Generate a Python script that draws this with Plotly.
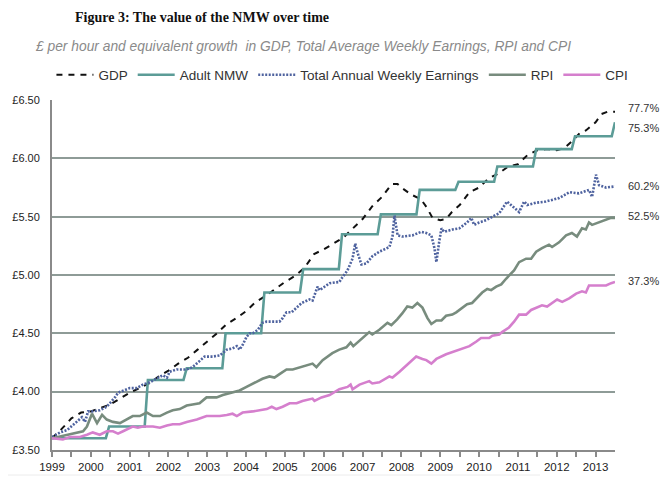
import plotly.graph_objects as go

# ---------------- data (x = year position on the chart's axis) ----------------
gdp_x = [1999.0, 1999.25, 1999.5, 1999.75, 2000.0, 2000.25, 2000.5, 2000.75, 2001.0, 2001.25,
         2001.5, 2001.75, 2002.0, 2002.25, 2002.5, 2002.75, 2003.0, 2003.25, 2003.5, 2003.75,
         2004.0, 2004.25, 2004.5, 2004.75, 2005.0, 2005.25, 2005.5, 2005.75, 2006.0, 2006.25,
         2006.5, 2006.75, 2007.0, 2007.25, 2007.5, 2007.75, 2007.9, 2008.0, 2008.25, 2008.5,
         2008.65, 2008.8, 2009.0, 2009.15, 2009.3, 2009.5, 2009.75, 2010.0, 2010.25, 2010.5,
         2010.75, 2011.0, 2011.25, 2011.5, 2011.75, 2012.0, 2012.2, 2012.4, 2012.6, 2012.75,
         2013.0, 2013.15, 2013.3, 2013.5]
gdp_y = [3.60, 3.68, 3.77, 3.82, 3.83, 3.86, 3.89, 3.94, 3.99, 4.03,
         4.07, 4.13, 4.18, 4.24, 4.29, 4.36, 4.43, 4.50, 4.58, 4.63,
         4.69, 4.77, 4.82, 4.88, 4.94, 4.99, 5.06, 5.18, 5.22, 5.27,
         5.32, 5.40, 5.48, 5.59, 5.67, 5.78, 5.78, 5.75, 5.69, 5.65,
         5.58, 5.49, 5.47, 5.48, 5.54, 5.60, 5.71, 5.75, 5.83, 5.87,
         5.93, 5.95, 6.03, 6.07, 6.08, 6.07, 6.09, 6.15, 6.22, 6.24,
         6.31, 6.38, 6.40, 6.40]

nmw_change_x = [1999.0, 2000.47, 2001.47, 2002.47, 2003.47, 2004.47, 2005.47, 2006.47,
                2007.47, 2008.47, 2009.47, 2010.47, 2011.47, 2012.47, 2013.5]
nmw_rate = [3.60, 3.70, 4.10, 4.20, 4.50, 4.85, 5.05, 5.35,
            5.52, 5.73, 5.80, 5.93, 6.08, 6.19, 6.31]

awe_x = [1999.0, 1999.21, 1999.39, 1999.64, 1999.72, 1999.77, 1999.85, 1999.93, 2000.05, 2000.23,
         2000.41, 2000.49, 2000.62, 2000.70, 2000.83, 2001.0, 2001.19, 2001.34, 2001.52, 2001.70,
         2001.85, 2001.96, 2002.03, 2002.21, 2002.47, 2002.62, 2002.80, 2002.93, 2003.14, 2003.32,
         2003.50, 2003.65, 2003.76, 2003.83, 2003.91, 2004.01, 2004.09, 2004.17, 2004.30, 2004.42,
         2004.53, 2004.86, 2004.94, 2005.04, 2005.17, 2005.30, 2005.43, 2005.63, 2005.71, 2005.84,
         2005.89, 2006.15, 2006.40, 2006.48, 2006.61, 2006.74, 2006.81, 2006.87, 2006.97, 2007.10,
         2007.25, 2007.43, 2007.69, 2007.77, 2007.82, 2007.90, 2008.02, 2008.28, 2008.51, 2008.64,
         2008.77, 2008.85, 2008.90, 2008.97, 2009.03, 2009.10, 2009.31, 2009.49, 2009.62, 2009.69,
         2009.80, 2009.87, 2010.00, 2010.18, 2010.34, 2010.52, 2010.72, 2010.83, 2010.95, 2011.03,
         2011.16, 2011.24, 2011.47, 2011.72, 2012.06, 2012.32, 2012.57, 2012.83, 2012.91, 2013.01,
         2013.09, 2013.27, 2013.5]
awe_y = [3.61, 3.65, 3.67, 3.74, 3.77, 3.78, 3.74, 3.83, 3.83, 3.84,
         3.87, 3.90, 3.95, 3.99, 4.01, 4.03, 4.03, 4.06, 4.08, 4.11,
         4.14, 4.12, 4.17, 4.19, 4.19, 4.21, 4.26, 4.30, 4.30, 4.31,
         4.36, 4.37, 4.39, 4.36, 4.40, 4.47, 4.50, 4.50, 4.53, 4.59,
         4.60, 4.60, 4.63, 4.68, 4.68, 4.72, 4.76, 4.79, 4.78, 4.90,
         4.87, 4.93, 4.94, 4.98, 5.04, 5.14, 5.27, 5.19, 5.09, 5.10,
         5.16, 5.20, 5.24, 5.33, 5.51, 5.34, 5.33, 5.34, 5.37, 5.36,
         5.34, 5.23, 5.11, 5.28, 5.40, 5.37, 5.39, 5.40, 5.43, 5.45,
         5.49, 5.43, 5.45, 5.47, 5.50, 5.53, 5.63, 5.60, 5.56, 5.54,
         5.63, 5.60, 5.62, 5.63, 5.66, 5.71, 5.70, 5.73, 5.67, 5.86,
         5.77, 5.75, 5.76]

rpi_x = [1999.0, 1999.39, 1999.64, 1999.80, 1999.90, 2000.03, 2000.16, 2000.29, 2000.41, 2000.57,
         2000.75, 2000.93, 2001.08, 2001.26, 2001.44, 2001.60, 2001.78, 2001.96, 2002.11, 2002.29,
         2002.47, 2002.62, 2002.80, 2002.98, 2003.24, 2003.40, 2003.65, 2003.83, 2004.01, 2004.17,
         2004.42, 2004.60, 2004.73, 2004.86, 2005.04, 2005.20, 2005.43, 2005.71, 2005.81, 2005.97,
         2006.22, 2006.40, 2006.58, 2006.69, 2006.76, 2006.92, 2007.10, 2007.17, 2007.25, 2007.43,
         2007.64, 2007.74, 2007.89, 2008.02, 2008.15, 2008.28, 2008.41, 2008.54, 2008.67, 2008.77,
         2008.90, 2009.03, 2009.15, 2009.31, 2009.41, 2009.57, 2009.69, 2009.82, 2010.00, 2010.08,
         2010.21, 2010.31, 2010.44, 2010.57, 2010.70, 2010.83, 2010.90, 2011.03, 2011.21, 2011.34,
         2011.47, 2011.62, 2011.80, 2011.88, 2012.06, 2012.24, 2012.39, 2012.52, 2012.65, 2012.75,
         2012.83, 2012.91, 2013.09, 2013.27, 2013.40, 2013.5]
rpi_y = [3.60, 3.63, 3.65, 3.66, 3.70, 3.81, 3.73, 3.80, 3.76, 3.74,
         3.73, 3.76, 3.79, 3.79, 3.82, 3.79, 3.79, 3.82, 3.84, 3.85,
         3.88, 3.89, 3.90, 3.95, 3.95, 3.97, 3.99, 4.01, 4.04, 4.07,
         4.11, 4.13, 4.12, 4.15, 4.19, 4.19, 4.21, 4.24, 4.21, 4.27,
         4.33, 4.36, 4.38, 4.42, 4.39, 4.44, 4.49, 4.51, 4.49, 4.53,
         4.59, 4.57, 4.62, 4.67, 4.73, 4.72, 4.76, 4.72, 4.63, 4.58,
         4.61, 4.61, 4.65, 4.66, 4.68, 4.72, 4.75, 4.76, 4.82, 4.85,
         4.88, 4.87, 4.90, 4.92, 4.97, 5.02, 5.04, 5.11, 5.14, 5.14,
         5.20, 5.23, 5.26, 5.24, 5.28, 5.34, 5.36, 5.33, 5.40, 5.39,
         5.45, 5.43, 5.45, 5.47, 5.49, 5.49]

cpi_x = [1999.0, 1999.28, 1999.46, 1999.72, 1999.90, 2000.05, 2000.23, 2000.41, 2000.57, 2000.70,
         2000.83, 2000.95, 2001.08, 2001.21, 2001.34, 2001.60, 2001.78, 2001.96, 2002.11, 2002.29,
         2002.47, 2002.73, 2002.80, 2002.98, 2003.14, 2003.32, 2003.50, 2003.65, 2003.76, 2003.91,
         2004.17, 2004.35, 2004.53, 2004.66, 2004.78, 2004.94, 2005.12, 2005.30, 2005.45, 2005.71,
         2005.76, 2005.94, 2006.15, 2006.40, 2006.61, 2006.69, 2006.74, 2006.92, 2007.17, 2007.25,
         2007.43, 2007.69, 2007.77, 2007.95, 2008.20, 2008.38, 2008.54, 2008.64, 2008.77, 2008.90,
         2009.15, 2009.41, 2009.57, 2009.75, 2009.93, 2010.05, 2010.26, 2010.34, 2010.52, 2010.59,
         2010.77, 2010.90, 2011.03, 2011.21, 2011.34, 2011.47, 2011.62, 2011.75, 2011.88, 2012.01,
         2012.14, 2012.32, 2012.50, 2012.65, 2012.75, 2012.83, 2013.01, 2013.16, 2013.27, 2013.40,
         2013.5]
cpi_y = [3.60, 3.59, 3.61, 3.61, 3.63, 3.65, 3.63, 3.66, 3.66, 3.64,
         3.66, 3.68, 3.70, 3.69, 3.70, 3.70, 3.69, 3.71, 3.72, 3.72,
         3.74, 3.76, 3.77, 3.79, 3.79, 3.79, 3.80, 3.81, 3.79, 3.82,
         3.83, 3.84, 3.85, 3.87, 3.85, 3.87, 3.90, 3.90, 3.92, 3.94,
         3.92, 3.95, 3.97, 4.02, 4.04, 4.06, 4.02, 4.06, 4.09, 4.07,
         4.08, 4.13, 4.12, 4.17, 4.25, 4.30, 4.28, 4.27, 4.24, 4.28,
         4.32, 4.35, 4.37, 4.39, 4.43, 4.46, 4.46, 4.48, 4.49, 4.51,
         4.55, 4.60, 4.66, 4.66, 4.70, 4.72, 4.74, 4.73, 4.76, 4.79,
         4.77, 4.80, 4.84, 4.86, 4.85, 4.91, 4.91, 4.91, 4.91, 4.93,
         4.94]

growth_labels = ["77.7%", "75.3%", "60.2%", "52.5%", "37.3%"]
year_labels = [str(y) for y in range(1999, 2014)]
y_ticks = [3.5, 4.0, 4.5, 5.0, 5.5, 6.0, 6.5]
y_tick_labels = ["£3.50", "£4.00", "£4.50", "£5.00", "£5.50", "£6.00", "£6.50"]

# ---------------- build NMW step series from the rate changes ----------------
nmw_x, nmw_y = [nmw_change_x[0]], [nmw_rate[0]]
for i in range(1, len(nmw_rate)):
    nmw_x += [nmw_change_x[i] - 1 / 12, nmw_change_x[i]]
    nmw_y += [nmw_rate[i - 1], nmw_rate[i]]

# ---------------- figure ----------------
C_GDP = "#111111"
C_NMW = "#5c9c97"
C_AWE = "#4f639f"
C_RPI = "#788c7e"
C_CPI = "#d57fcd"
GRID = "#8e9b97"

fig = go.Figure()
fig.add_trace(go.Scatter(x=gdp_x, y=gdp_y, mode="lines", name="GDP",
                         line=dict(color=C_GDP, width=2, dash="6px,6px")))
fig.add_trace(go.Scatter(x=nmw_x, y=nmw_y, mode="lines", name="Adult NMW",
                         line=dict(color=C_NMW, width=2.6)))
fig.add_trace(go.Scatter(x=awe_x, y=awe_y, mode="lines", name="Total Annual Weekly Earnings",
                         line=dict(color=C_AWE, width=2.6, dash="2px,1.5px")))
fig.add_trace(go.Scatter(x=rpi_x, y=rpi_y, mode="lines", name="RPI",
                         line=dict(color=C_RPI, width=2.6)))
fig.add_trace(go.Scatter(x=cpi_x, y=cpi_y, mode="lines", name="CPI",
                         line=dict(color=C_CPI, width=2.6)))

# right-hand growth labels, placed at each series' final value
ends = [gdp_y[-1], nmw_y[-1], awe_y[-1], rpi_y[-1], cpi_y[-1]]
shifts = [4, -6, 0, 2, 1]
for lab, yv, sh in zip(growth_labels, ends, shifts):
    fig.add_annotation(x=1, xref="paper", y=yv, yref="y", text=lab, showarrow=False,
                       xanchor="left", xshift=11, yshift=sh,
                       font=dict(family="Liberation Sans", size=11, color="#333333"))

# plot area in page pixels: x 52..615, y 100..450 (page has an 8px body margin)
fig.add_annotation(x=(73 - 52) / 563, xref="paper", y=1 + (100 - 17) / 350, yref="paper",
                   text="<b>Figure 3: The value of the NMW over time</b>", showarrow=False,
                   xanchor="left", yanchor="middle",
                   font=dict(family="Liberation Serif", size=14, color="#111111"))
fig.add_annotation(x=(33 - 52) / 563, xref="paper", y=1 + (100 - 47) / 350, yref="paper",
                   text="<i>£ per hour and equivalent growth  in GDP, Total Average Weekly Earnings, RPI and CPI</i>",
                   showarrow=False, xanchor="left", yanchor="middle",
                   font=dict(family="Liberation Sans", size=13.8, color="#8a8a8a"))

# faint separator under the axis labels
fig.add_shape(type="line", xref="paper", yref="paper",
              x0=(5 - 52) / 563, x1=(540 - 52) / 563, y0=-(475 - 450) / 350, y1=-(475 - 450) / 350,
              line=dict(color="#ececec", width=1))

tick_vals = [1999 + 0.5 * i for i in range(29)]
tick_text = [year_labels[i // 2] if i % 2 == 0 else "" for i in range(29)]

fig.update_layout(
    width=656, height=472,
    margin=dict(l=44, r=49, t=92, b=30, pad=0, autoexpand=False),
    paper_bgcolor="white", plot_bgcolor="white",
    showlegend=True,
    legend=dict(orientation="h", x=-0.001, xanchor="left", y=1 + 25 / 350, yanchor="middle",
                font=dict(family="Liberation Sans", size=13.5, color="#333333"),
                itemwidth=37, tracegroupgap=0, bgcolor="rgba(0,0,0,0)"),
    xaxis=dict(range=[1999, 2013.5], tickmode="array", tickvals=tick_vals, ticktext=tick_text,
               ticks="outside", ticklen=5, tickwidth=1.5, tickcolor="#8a8a8a",
               showline=True, linecolor="#8a8a8a", linewidth=2, showgrid=False, zeroline=False,
               tickfont=dict(family="Liberation Sans", size=11.5, color="#222222")),
    yaxis=dict(range=[3.499, 6.501], tickmode="array", tickvals=y_ticks, ticktext=y_tick_labels,
               ticks="", showline=True, linecolor="#8a8a8a", linewidth=2,
               showgrid=True, gridcolor=GRID, gridwidth=2, zeroline=False, ticklabelstandoff=8,
               tickfont=dict(family="Liberation Sans", size=11, color="#222222")),
)

fig.write_html("out.html")
